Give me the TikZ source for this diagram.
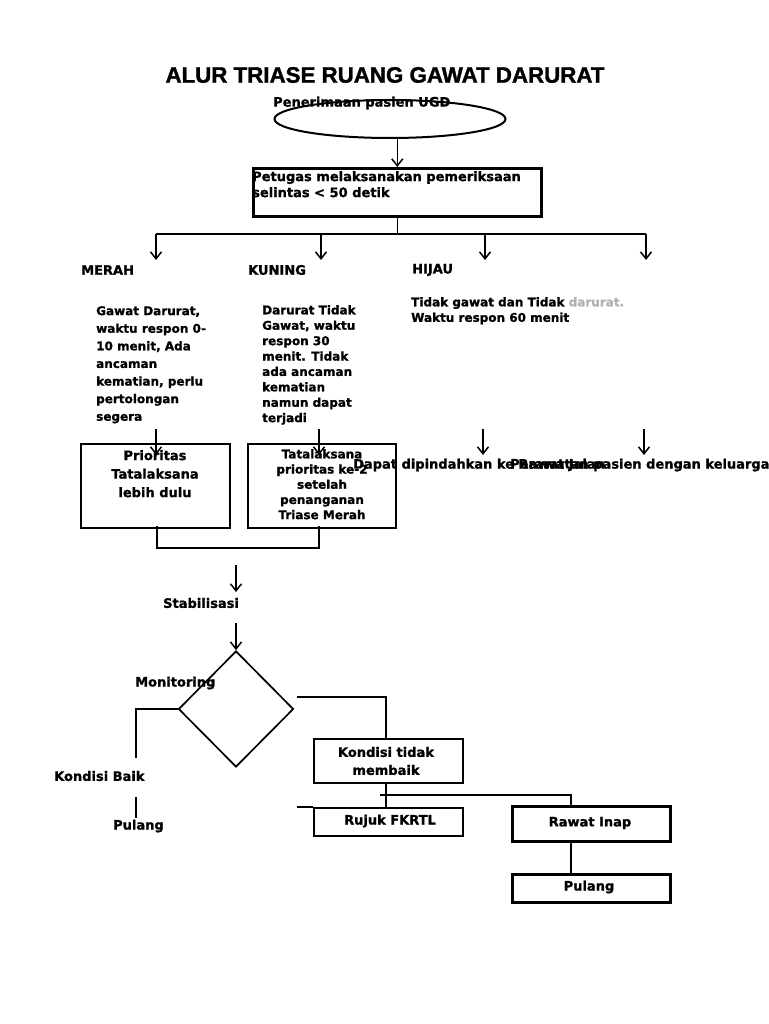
\documentclass[tikz,border=0pt]{standalone}
\usepackage{fontspec}
\setmainfont{DejaVu Sans}[BoldFeatures={FakeBold=1.2}]
\newfontfamily\titlefont{Liberation Sans}[BoldFeatures={FakeBold=1.5}]
\usetikzlibrary{arrows.meta,shapes.geometric}
\begin{document}
\begin{tikzpicture}[x=1pt,y=-1pt,
  lbl/.style={font=\bfseries\fontsize{13}{16}\selectfont, inner sep=0pt},
  blk/.style={font=\bfseries\fontsize{12}{17.6}\selectfont, inner sep=0pt, align=left, anchor=north west},
  arr/.style={-{Straight Barb[length=7pt,width=11pt]}, line width=1.5pt},
  ln/.style={line width=1.6pt},
  thk/.style={line width=2.6pt},
  box/.style={draw, line width=1.7pt, inner sep=0pt, anchor=north west},
  tbox/.style={draw, line width=2.6pt, inner sep=0pt, anchor=north west}]
\useasboundingbox (0,0) rectangle (768,1024);

% title
\node[font=\titlefont\bfseries\fontsize{22.3}{26}\selectfont, inner sep=0pt] (title) at (385,75) {ALUR TRIASE RUANG GAWAT DARURAT};

% ellipse
\node[draw, ellipse, line width=2pt, minimum width=231, minimum height=38, inner sep=0pt] (ugd) at (390,119) {};
\node[lbl, anchor=west] (ugdt) at (273,103) {Penerimaan pasien UGD};

% petugas box
\node[box, line width=2.6pt, minimum width=288, minimum height=48] (pet) at (252,167) {};
\node[lbl, align=left, anchor=north west, font=\bfseries\fontsize{13}{16}\selectfont] (pett) at (252,171) {Petugas melaksanakan pemeriksaan\\selintas < 50 detik};

\draw[arr] (pet.north |- ugd.south) -- (pet.north);

% distribution
\coordinate (j0) at (396,234);
\coordinate (d1) at (156,234);
\coordinate (d2) at (321,234);
\coordinate (d3) at (485,234);
\coordinate (d4) at (646,234);
\coordinate (e1) at (156,260);
\coordinate (e2) at (321,260);
\coordinate (e3) at (485,260);
\coordinate (e4) at (646,260);
\draw[ln] (pet.south) -- (pet.south |- j0);
\draw[ln] (d1) -- (d4);
\draw[arr] (d1) -- (e1);
\draw[arr] (d2) -- (e2);
\draw[arr] (d3) -- (e3);
\draw[arr] (d4) -- (e4);

\node[lbl, anchor=west] (merah) at (81,270) {MERAH};
\node[lbl, anchor=west] (kuning) at (248,270) {KUNING};
\node[lbl, anchor=west] (hijau) at (412,270) {HIJAU};

% descriptions
\node[blk] (dm) at (96,306) {Gawat Darurat,\\waktu respon 0-\\10 menit, Ada\\ancaman\\kematian, perlu\\pertolongan\\segera};
\node[blk, font=\bfseries\fontsize{12}{15.4}\selectfont] (dk) at (262,305) {Darurat Tidak\\Gawat, waktu\\respon 30\\menit. Tidak\\ada ancaman\\kematian\\namun dapat\\terjadi};
\node[blk, font=\bfseries\fontsize{12}{15.5}\selectfont] (dh) at (411,297) {Tidak gawat dan Tidak \textcolor{black!30}{darurat.}\\Waktu respon 60 menit};

% priority boxes
\node[box, minimum width=149, minimum height=84] (b1) at (80,443) {};
\node[box, minimum width=148, minimum height=84] (b2) at (247,443) {};
\node[lbl, align=center, anchor=north, font=\bfseries\fontsize{13}{18.5}\selectfont] (b1t) at (155,450) {Prioritas\\Tatalaksana\\lebih dulu};
\node[lbl, align=center, anchor=north, font=\bfseries\fontsize{12}{15.2}\selectfont] (b2t) at (322,449) {Tatalaksana\\prioritas ke-2\\setelah\\penanganan\\Triase Merah};

\coordinate (a1s) at (156,429); \coordinate (a1e) at (156,455);
\coordinate (a2s) at (319,429); \coordinate (a2e) at (319,455);
\coordinate (a3s) at (483,429); \coordinate (a3e) at (483,455);
\coordinate (a4s) at (644,429); \coordinate (a4e) at (644,455);
\draw[arr] (a1s) -- (a1e);
\draw[arr] (a2s) -- (a2e);
\draw[arr] (a3s) -- (a3e);
\draw[arr] (a4s) -- (a4e);

\node[lbl, anchor=west, font=\bfseries\fontsize{13}{16}\selectfont] (dp) at (353,465) {Dapat dipindahkan ke Rawat Jalan};
\node[lbl, anchor=west, font=\bfseries\fontsize{13}{16}\selectfont] (pk) at (510,465) {Perawatan pasien dengan keluarga};

% join
\coordinate (c1) at (157,526);
\coordinate (c2) at (157,548);
\coordinate (c3) at (319,548);
\coordinate (c4) at (319,526);
\draw[ln] (c1) -- (c2) -- (c3) -- (c4);

\coordinate (s1) at (236,565);
\coordinate (s2) at (236,592);
\draw[arr] (s1) -- (s2);
\node[lbl, anchor=west] (stab) at (163,603) {Stabilisasi};

% monitoring diamond
\node[draw, diamond, line width=1.7pt, minimum width=115, minimum height=116, inner sep=0pt] (mon) at (236,709) {};
\coordinate (s3) at (236,623);
\draw[arr] (s3) -- (mon.north);
\node[lbl, anchor=west] (mont) at (135,683) {Monitoring};

% kondisi baik
\coordinate (kb1) at (136,709);
\coordinate (kb2) at (136,758);
\draw[ln] (mon.west) -- (kb1) -- (kb2);
\node[lbl, anchor=west] (kbaik) at (54,776) {Kondisi Baik};
\coordinate (p1) at (136,797);
\coordinate (p2) at (136,818);
\draw[ln] (p1) -- (p2);
\node[lbl, anchor=west] (pul1) at (113,826) {Pulang};

% kondisi tidak membaik
\node[box, minimum width=149, minimum height=44] (kt) at (313,738) {};
\node[lbl, align=center, font=\bfseries\fontsize{13}{18}\selectfont] (ktt) at (386,761) {Kondisi tidak\\membaik};
\coordinate (r1) at (297,697);
\coordinate (r2) at (386,697);
\draw[ln] (r1) -- (r2) -- (r2 |- kt.north);

% rujuk
\node[box, minimum width=149, minimum height=28] (rj) at (313,807) {};
\node[lbl] (rjt) at (390,821) {Rujuk FKRTL};
\draw[ln] (r2 |- kt.south) -- (r2 |- rj.north);
\coordinate (rl) at (297,807);
\draw[ln] (rl) -- (rj.north west);

% rawat inap
\node[tbox, minimum width=158, minimum height=35] (ri) at (511,805) {};
\node[lbl] (rit) at (590,823) {Rawat Inap};
\coordinate (t1) at (380,795);
\coordinate (t2) at (571,795);
\draw[thk] (t1) -- (t2) -- (t2 |- ri.north);

% pulang
\node[tbox, minimum width=158, minimum height=28] (pl) at (511,873) {};
\node[lbl] (plt) at (589,887) {Pulang};
\draw[thk] (t2 |- ri.south) -- (t2 |- pl.north);
\end{tikzpicture}
\end{document}
